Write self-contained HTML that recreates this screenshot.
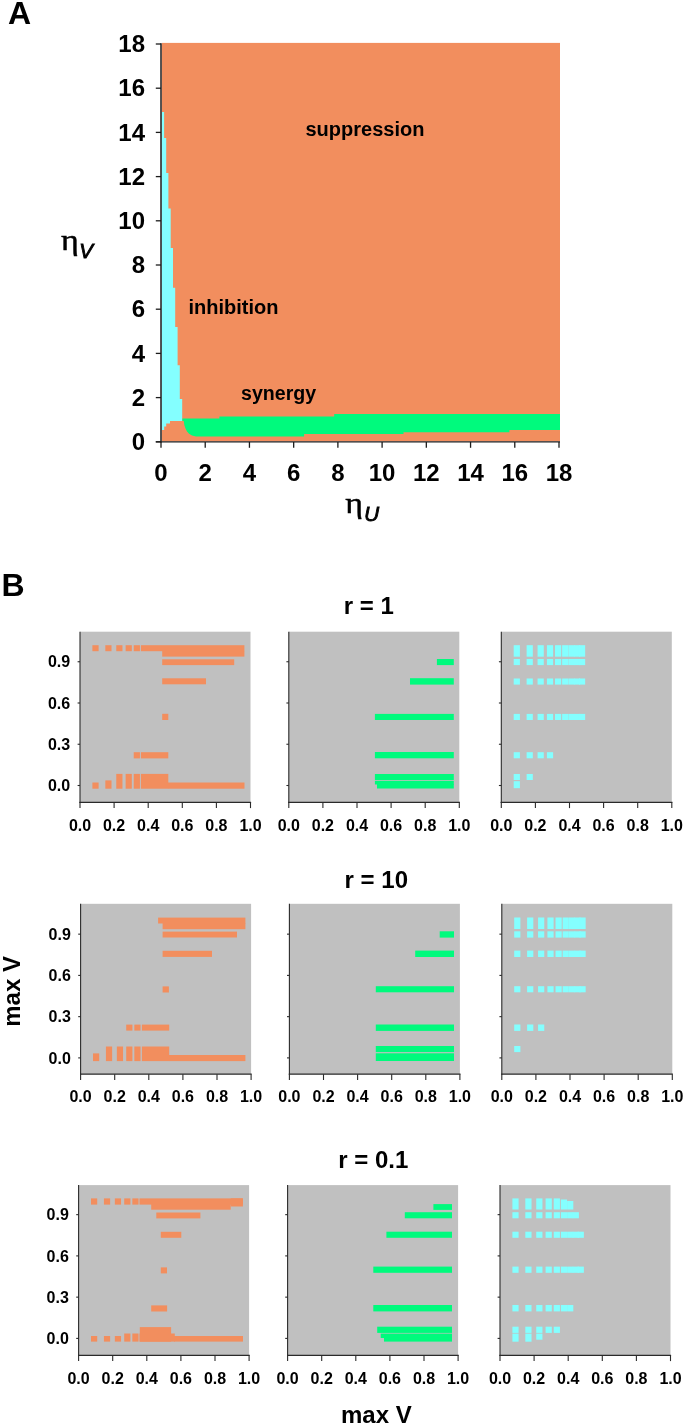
<!DOCTYPE html>
<html><head><meta charset="utf-8"><title>Figure</title>
<style>
html,body{margin:0;padding:0;background:#fff;}
svg{display:block;font-family:"Liberation Sans",sans-serif;fill:#000;}
</style></head><body>
<svg width="685" height="1426" viewBox="0 0 685 1426">
<rect x="0" y="0" width="685" height="1426" fill="#ffffff"/>
<text x="8.10" y="24.10" font-size="32" text-anchor="start" font-weight="bold" >A</text>
<rect x="161.80" y="42.90" width="398.20" height="398.30" fill="#F28E5E"/>
<polygon fill="#84FFFF" points="162,112 164.1,112 164.1,138 166.2,138 166.2,173 168.4,173 168.4,208.6 170.7,208.6 170.7,248 173,248 173,287.7 175.2,287.7 175.2,327 177.6,327 177.6,365.3 179.8,365.3 179.8,399 182.2,399 182.2,421 170,421 170,423.6 166.2,423.6 166.2,426.5 164.2,426.5 164.2,430 162,430 161.5,430 161.5,112"/>
<polygon fill="#00FA7D" points="182.4,418.4 219.4,418.4 219.4,416.4 334.2,416.4 334.2,414.0 560,414.0 560,430.1 509.4,430.1 509.4,432.3 403.5,432.3 403.5,434.0 304.1,434.0 304.1,436.5 196,436.5 192,435.6 189,433.8 187,431.5 185.5,428.5 184.3,425 183.8,421 182.4,421"/>
<line x1="161.00" y1="43.20" x2="161.00" y2="442.60" stroke="#1c1c1c" stroke-width="1.5"/>
<line x1="155.80" y1="441.90" x2="560.00" y2="441.90" stroke="#1c1c1c" stroke-width="1.4"/>
<line x1="155.80" y1="441.80" x2="161.00" y2="441.80" stroke="#1c1c1c" stroke-width="1.3"/>
<line x1="161.00" y1="441.90" x2="161.00" y2="447.80" stroke="#1c1c1c" stroke-width="1.3"/>
<text x="145.00" y="450.00" font-size="24" text-anchor="end" font-weight="bold" >0</text>
<text x="161.00" y="481.30" font-size="24" text-anchor="middle" font-weight="bold" >0</text>
<line x1="155.80" y1="397.60" x2="161.00" y2="397.60" stroke="#1c1c1c" stroke-width="1.3"/>
<line x1="205.22" y1="441.90" x2="205.22" y2="447.80" stroke="#1c1c1c" stroke-width="1.3"/>
<text x="145.00" y="405.80" font-size="24" text-anchor="end" font-weight="bold" >2</text>
<text x="205.22" y="481.30" font-size="24" text-anchor="middle" font-weight="bold" >2</text>
<line x1="155.80" y1="353.40" x2="161.00" y2="353.40" stroke="#1c1c1c" stroke-width="1.3"/>
<line x1="249.44" y1="441.90" x2="249.44" y2="447.80" stroke="#1c1c1c" stroke-width="1.3"/>
<text x="145.00" y="361.60" font-size="24" text-anchor="end" font-weight="bold" >4</text>
<text x="249.44" y="481.30" font-size="24" text-anchor="middle" font-weight="bold" >4</text>
<line x1="155.80" y1="309.20" x2="161.00" y2="309.20" stroke="#1c1c1c" stroke-width="1.3"/>
<line x1="293.67" y1="441.90" x2="293.67" y2="447.80" stroke="#1c1c1c" stroke-width="1.3"/>
<text x="145.00" y="317.40" font-size="24" text-anchor="end" font-weight="bold" >6</text>
<text x="293.67" y="481.30" font-size="24" text-anchor="middle" font-weight="bold" >6</text>
<line x1="155.80" y1="265.00" x2="161.00" y2="265.00" stroke="#1c1c1c" stroke-width="1.3"/>
<line x1="337.89" y1="441.90" x2="337.89" y2="447.80" stroke="#1c1c1c" stroke-width="1.3"/>
<text x="145.00" y="273.20" font-size="24" text-anchor="end" font-weight="bold" >8</text>
<text x="337.89" y="481.30" font-size="24" text-anchor="middle" font-weight="bold" >8</text>
<line x1="155.80" y1="220.80" x2="161.00" y2="220.80" stroke="#1c1c1c" stroke-width="1.3"/>
<line x1="382.11" y1="441.90" x2="382.11" y2="447.80" stroke="#1c1c1c" stroke-width="1.3"/>
<text x="145.00" y="229.00" font-size="24" text-anchor="end" font-weight="bold" >10</text>
<text x="382.11" y="481.30" font-size="24" text-anchor="middle" font-weight="bold" >10</text>
<line x1="155.80" y1="176.60" x2="161.00" y2="176.60" stroke="#1c1c1c" stroke-width="1.3"/>
<line x1="426.33" y1="441.90" x2="426.33" y2="447.80" stroke="#1c1c1c" stroke-width="1.3"/>
<text x="145.00" y="184.80" font-size="24" text-anchor="end" font-weight="bold" >12</text>
<text x="426.33" y="481.30" font-size="24" text-anchor="middle" font-weight="bold" >12</text>
<line x1="155.80" y1="132.40" x2="161.00" y2="132.40" stroke="#1c1c1c" stroke-width="1.3"/>
<line x1="470.56" y1="441.90" x2="470.56" y2="447.80" stroke="#1c1c1c" stroke-width="1.3"/>
<text x="145.00" y="140.60" font-size="24" text-anchor="end" font-weight="bold" >14</text>
<text x="470.56" y="481.30" font-size="24" text-anchor="middle" font-weight="bold" >14</text>
<line x1="155.80" y1="88.20" x2="161.00" y2="88.20" stroke="#1c1c1c" stroke-width="1.3"/>
<line x1="514.78" y1="441.90" x2="514.78" y2="447.80" stroke="#1c1c1c" stroke-width="1.3"/>
<text x="145.00" y="96.40" font-size="24" text-anchor="end" font-weight="bold" >16</text>
<text x="514.78" y="481.30" font-size="24" text-anchor="middle" font-weight="bold" >16</text>
<line x1="155.80" y1="44.00" x2="161.00" y2="44.00" stroke="#1c1c1c" stroke-width="1.3"/>
<line x1="559.00" y1="441.90" x2="559.00" y2="447.80" stroke="#1c1c1c" stroke-width="1.3"/>
<text x="145.00" y="52.20" font-size="24" text-anchor="end" font-weight="bold" >18</text>
<text x="559.00" y="481.30" font-size="24" text-anchor="middle" font-weight="bold" >18</text>
<text x="305.50" y="136.30" font-size="20" text-anchor="start" font-weight="bold" >suppression</text>
<text x="188.50" y="313.50" font-size="20" text-anchor="start" font-weight="bold" >inhibition</text>
<text x="241.00" y="399.60" font-size="19.6" text-anchor="start" font-weight="bold" >synergy</text>
<text transform="translate(60.9,249.7) scale(1.15,1)" font-size="29.5" font-family="'Liberation Serif',serif" font-weight="normal" stroke="#000" stroke-width="0.45">η</text>
<text x="79.2" y="258" font-size="20.5" font-style="italic" font-weight="normal" stroke="#000" stroke-width="0.9">V</text>
<text transform="translate(345.2,512.7) scale(1.15,1)" font-size="29.5" font-family="'Liberation Serif',serif" font-weight="normal" stroke="#000" stroke-width="0.45">η</text>
<text x="364.3" y="521" font-size="20.5" font-style="italic" font-weight="normal" stroke="#000" stroke-width="0.9">U</text>
<text x="1.50" y="596.30" font-size="32" text-anchor="start" font-weight="bold" >B</text>
<text x="343.80" y="613.60" font-size="24" text-anchor="start" font-weight="bold" >r = 1</text>
<rect x="80.00" y="631.70" width="170.50" height="170.60" fill="#C0C0C0"/>
<rect x="92.40" y="645.20" width="6.20" height="6.00" fill="#F28E5E"/>
<rect x="105.32" y="645.20" width="6.20" height="6.00" fill="#F28E5E"/>
<rect x="116.25" y="645.20" width="6.20" height="6.00" fill="#F28E5E"/>
<rect x="125.61" y="645.20" width="6.20" height="6.00" fill="#F28E5E"/>
<rect x="133.73" y="645.20" width="6.20" height="6.00" fill="#F28E5E"/>
<rect x="140.90" y="645.20" width="103.50" height="6.00" fill="#F28E5E"/>
<rect x="162.20" y="651.00" width="82.20" height="5.60" fill="#F28E5E"/>
<rect x="162.20" y="659.30" width="72.00" height="5.80" fill="#F28E5E"/>
<rect x="162.20" y="678.30" width="43.80" height="6.00" fill="#F28E5E"/>
<rect x="162.20" y="713.80" width="6.10" height="6.20" fill="#F28E5E"/>
<rect x="133.73" y="752.20" width="6.20" height="6.20" fill="#F28E5E"/>
<rect x="140.90" y="752.20" width="27.40" height="6.20" fill="#F28E5E"/>
<rect x="116.25" y="773.90" width="6.20" height="14.80" fill="#F28E5E"/>
<rect x="125.61" y="773.90" width="6.20" height="14.80" fill="#F28E5E"/>
<rect x="133.73" y="773.90" width="6.20" height="14.80" fill="#F28E5E"/>
<rect x="140.90" y="773.90" width="27.40" height="14.80" fill="#F28E5E"/>
<rect x="105.32" y="780.40" width="6.20" height="8.30" fill="#F28E5E"/>
<rect x="92.40" y="782.50" width="6.20" height="6.20" fill="#F28E5E"/>
<rect x="168.00" y="782.50" width="76.50" height="6.20" fill="#F28E5E"/>
<line x1="80.00" y1="631.70" x2="80.00" y2="802.90" stroke="#2a2a2a" stroke-width="1.1"/>
<line x1="79.40" y1="802.30" x2="251.10" y2="802.30" stroke="#2a2a2a" stroke-width="1.2"/>
<line x1="80.00" y1="802.30" x2="80.00" y2="808.10" stroke="#2a2a2a" stroke-width="1.1"/>
<text x="80.00" y="830.50" font-size="16" text-anchor="middle" font-weight="bold" >0.0</text>
<line x1="114.10" y1="802.30" x2="114.10" y2="808.10" stroke="#2a2a2a" stroke-width="1.1"/>
<text x="114.10" y="830.50" font-size="16" text-anchor="middle" font-weight="bold" >0.2</text>
<line x1="148.20" y1="802.30" x2="148.20" y2="808.10" stroke="#2a2a2a" stroke-width="1.1"/>
<text x="148.20" y="830.50" font-size="16" text-anchor="middle" font-weight="bold" >0.4</text>
<line x1="182.30" y1="802.30" x2="182.30" y2="808.10" stroke="#2a2a2a" stroke-width="1.1"/>
<text x="182.30" y="830.50" font-size="16" text-anchor="middle" font-weight="bold" >0.6</text>
<line x1="216.40" y1="802.30" x2="216.40" y2="808.10" stroke="#2a2a2a" stroke-width="1.1"/>
<text x="216.40" y="830.50" font-size="16" text-anchor="middle" font-weight="bold" >0.8</text>
<line x1="250.50" y1="802.30" x2="250.50" y2="808.10" stroke="#2a2a2a" stroke-width="1.1"/>
<text x="250.50" y="830.50" font-size="16" text-anchor="middle" font-weight="bold" >1.0</text>
<line x1="77.60" y1="785.50" x2="80.00" y2="785.50" stroke="#2a2a2a" stroke-width="1.1"/>
<text x="70.20" y="791.20" font-size="16" text-anchor="end" font-weight="bold" >0.0</text>
<line x1="77.60" y1="744.25" x2="80.00" y2="744.25" stroke="#2a2a2a" stroke-width="1.1"/>
<text x="70.20" y="749.95" font-size="16" text-anchor="end" font-weight="bold" >0.3</text>
<line x1="77.60" y1="703.00" x2="80.00" y2="703.00" stroke="#2a2a2a" stroke-width="1.1"/>
<text x="70.20" y="708.70" font-size="16" text-anchor="end" font-weight="bold" >0.6</text>
<line x1="77.60" y1="661.75" x2="80.00" y2="661.75" stroke="#2a2a2a" stroke-width="1.1"/>
<text x="70.20" y="667.45" font-size="16" text-anchor="end" font-weight="bold" >0.9</text>
<rect x="288.80" y="631.70" width="170.50" height="170.60" fill="#C0C0C0"/>
<rect x="436.90" y="659.00" width="16.90" height="6.10" fill="#00FA7D"/>
<rect x="410.00" y="678.20" width="43.80" height="6.40" fill="#00FA7D"/>
<rect x="374.90" y="713.90" width="78.90" height="6.10" fill="#00FA7D"/>
<rect x="374.90" y="752.00" width="78.90" height="6.30" fill="#00FA7D"/>
<rect x="374.90" y="774.00" width="78.90" height="6.10" fill="#00FA7D"/>
<rect x="374.90" y="780.90" width="78.90" height="3.60" fill="#00FA7D"/>
<rect x="377.00" y="784.00" width="76.80" height="4.50" fill="#00FA7D"/>
<line x1="288.80" y1="631.70" x2="288.80" y2="802.90" stroke="#2a2a2a" stroke-width="1.1"/>
<line x1="288.20" y1="802.30" x2="459.90" y2="802.30" stroke="#2a2a2a" stroke-width="1.2"/>
<line x1="288.80" y1="802.30" x2="288.80" y2="808.10" stroke="#2a2a2a" stroke-width="1.1"/>
<text x="288.80" y="830.50" font-size="16" text-anchor="middle" font-weight="bold" >0.0</text>
<line x1="322.90" y1="802.30" x2="322.90" y2="808.10" stroke="#2a2a2a" stroke-width="1.1"/>
<text x="322.90" y="830.50" font-size="16" text-anchor="middle" font-weight="bold" >0.2</text>
<line x1="357.00" y1="802.30" x2="357.00" y2="808.10" stroke="#2a2a2a" stroke-width="1.1"/>
<text x="357.00" y="830.50" font-size="16" text-anchor="middle" font-weight="bold" >0.4</text>
<line x1="391.10" y1="802.30" x2="391.10" y2="808.10" stroke="#2a2a2a" stroke-width="1.1"/>
<text x="391.10" y="830.50" font-size="16" text-anchor="middle" font-weight="bold" >0.6</text>
<line x1="425.20" y1="802.30" x2="425.20" y2="808.10" stroke="#2a2a2a" stroke-width="1.1"/>
<text x="425.20" y="830.50" font-size="16" text-anchor="middle" font-weight="bold" >0.8</text>
<line x1="459.30" y1="802.30" x2="459.30" y2="808.10" stroke="#2a2a2a" stroke-width="1.1"/>
<text x="459.30" y="830.50" font-size="16" text-anchor="middle" font-weight="bold" >1.0</text>
<line x1="286.40" y1="785.50" x2="288.80" y2="785.50" stroke="#2a2a2a" stroke-width="1.1"/>
<line x1="286.40" y1="744.25" x2="288.80" y2="744.25" stroke="#2a2a2a" stroke-width="1.1"/>
<line x1="286.40" y1="703.00" x2="288.80" y2="703.00" stroke="#2a2a2a" stroke-width="1.1"/>
<line x1="286.40" y1="661.75" x2="288.80" y2="661.75" stroke="#2a2a2a" stroke-width="1.1"/>
<rect x="501.30" y="631.70" width="170.50" height="170.60" fill="#C0C0C0"/>
<rect x="513.70" y="645.20" width="6.20" height="11.50" fill="#84FFFF"/>
<rect x="526.62" y="645.20" width="6.20" height="11.50" fill="#84FFFF"/>
<rect x="537.55" y="645.20" width="6.20" height="11.50" fill="#84FFFF"/>
<rect x="546.91" y="645.20" width="6.20" height="11.50" fill="#84FFFF"/>
<rect x="555.03" y="645.20" width="6.20" height="11.50" fill="#84FFFF"/>
<rect x="562.14" y="645.20" width="6.20" height="11.50" fill="#84FFFF"/>
<rect x="568.41" y="645.20" width="6.20" height="11.50" fill="#84FFFF"/>
<rect x="573.98" y="645.20" width="6.20" height="11.50" fill="#84FFFF"/>
<rect x="578.96" y="645.20" width="6.20" height="11.50" fill="#84FFFF"/>
<rect x="513.70" y="659.00" width="6.20" height="6.10" fill="#84FFFF"/>
<rect x="526.62" y="659.00" width="6.20" height="6.10" fill="#84FFFF"/>
<rect x="537.55" y="659.00" width="6.20" height="6.10" fill="#84FFFF"/>
<rect x="546.91" y="659.00" width="6.20" height="6.10" fill="#84FFFF"/>
<rect x="555.03" y="659.00" width="6.20" height="6.10" fill="#84FFFF"/>
<rect x="562.14" y="659.00" width="6.20" height="6.10" fill="#84FFFF"/>
<rect x="568.41" y="659.00" width="6.20" height="6.10" fill="#84FFFF"/>
<rect x="573.98" y="659.00" width="6.20" height="6.10" fill="#84FFFF"/>
<rect x="578.96" y="659.00" width="6.20" height="6.10" fill="#84FFFF"/>
<rect x="513.70" y="678.50" width="6.20" height="6.10" fill="#84FFFF"/>
<rect x="526.62" y="678.50" width="6.20" height="6.10" fill="#84FFFF"/>
<rect x="537.55" y="678.50" width="6.20" height="6.10" fill="#84FFFF"/>
<rect x="546.91" y="678.50" width="6.20" height="6.10" fill="#84FFFF"/>
<rect x="555.03" y="678.50" width="6.20" height="6.10" fill="#84FFFF"/>
<rect x="562.14" y="678.50" width="6.20" height="6.10" fill="#84FFFF"/>
<rect x="568.41" y="678.50" width="6.20" height="6.10" fill="#84FFFF"/>
<rect x="573.98" y="678.50" width="6.20" height="6.10" fill="#84FFFF"/>
<rect x="578.96" y="678.50" width="6.20" height="6.10" fill="#84FFFF"/>
<rect x="513.70" y="713.90" width="6.20" height="6.10" fill="#84FFFF"/>
<rect x="526.62" y="713.90" width="6.20" height="6.10" fill="#84FFFF"/>
<rect x="537.55" y="713.90" width="6.20" height="6.10" fill="#84FFFF"/>
<rect x="546.91" y="713.90" width="6.20" height="6.10" fill="#84FFFF"/>
<rect x="555.03" y="713.90" width="6.20" height="6.10" fill="#84FFFF"/>
<rect x="562.14" y="713.90" width="6.20" height="6.10" fill="#84FFFF"/>
<rect x="568.41" y="713.90" width="6.20" height="6.10" fill="#84FFFF"/>
<rect x="573.98" y="713.90" width="6.20" height="6.10" fill="#84FFFF"/>
<rect x="578.96" y="713.90" width="6.20" height="6.10" fill="#84FFFF"/>
<rect x="513.70" y="752.20" width="6.20" height="6.10" fill="#84FFFF"/>
<rect x="526.62" y="752.20" width="6.20" height="6.10" fill="#84FFFF"/>
<rect x="537.55" y="752.20" width="6.20" height="6.10" fill="#84FFFF"/>
<rect x="546.91" y="752.20" width="6.20" height="6.10" fill="#84FFFF"/>
<rect x="513.70" y="774.00" width="6.20" height="6.00" fill="#84FFFF"/>
<rect x="526.62" y="774.00" width="6.20" height="6.00" fill="#84FFFF"/>
<rect x="513.70" y="781.20" width="6.20" height="7.00" fill="#84FFFF"/>
<line x1="501.30" y1="631.70" x2="501.30" y2="802.90" stroke="#2a2a2a" stroke-width="1.1"/>
<line x1="500.70" y1="802.30" x2="672.40" y2="802.30" stroke="#2a2a2a" stroke-width="1.2"/>
<line x1="501.30" y1="802.30" x2="501.30" y2="808.10" stroke="#2a2a2a" stroke-width="1.1"/>
<text x="501.30" y="830.50" font-size="16" text-anchor="middle" font-weight="bold" >0.0</text>
<line x1="535.40" y1="802.30" x2="535.40" y2="808.10" stroke="#2a2a2a" stroke-width="1.1"/>
<text x="535.40" y="830.50" font-size="16" text-anchor="middle" font-weight="bold" >0.2</text>
<line x1="569.50" y1="802.30" x2="569.50" y2="808.10" stroke="#2a2a2a" stroke-width="1.1"/>
<text x="569.50" y="830.50" font-size="16" text-anchor="middle" font-weight="bold" >0.4</text>
<line x1="603.60" y1="802.30" x2="603.60" y2="808.10" stroke="#2a2a2a" stroke-width="1.1"/>
<text x="603.60" y="830.50" font-size="16" text-anchor="middle" font-weight="bold" >0.6</text>
<line x1="637.70" y1="802.30" x2="637.70" y2="808.10" stroke="#2a2a2a" stroke-width="1.1"/>
<text x="637.70" y="830.50" font-size="16" text-anchor="middle" font-weight="bold" >0.8</text>
<line x1="671.80" y1="802.30" x2="671.80" y2="808.10" stroke="#2a2a2a" stroke-width="1.1"/>
<text x="671.80" y="830.50" font-size="16" text-anchor="middle" font-weight="bold" >1.0</text>
<line x1="498.90" y1="785.50" x2="501.30" y2="785.50" stroke="#2a2a2a" stroke-width="1.1"/>
<line x1="498.90" y1="744.25" x2="501.30" y2="744.25" stroke="#2a2a2a" stroke-width="1.1"/>
<line x1="498.90" y1="703.00" x2="501.30" y2="703.00" stroke="#2a2a2a" stroke-width="1.1"/>
<line x1="498.90" y1="661.75" x2="501.30" y2="661.75" stroke="#2a2a2a" stroke-width="1.1"/>
<text x="344.60" y="887.80" font-size="24" text-anchor="start" font-weight="bold" >r = 10</text>
<rect x="80.60" y="903.80" width="170.50" height="170.40" fill="#C0C0C0"/>
<rect x="158.10" y="917.60" width="87.30" height="5.90" fill="#F28E5E"/>
<rect x="162.60" y="923.00" width="82.80" height="6.20" fill="#F28E5E"/>
<rect x="162.60" y="931.60" width="74.40" height="5.90" fill="#F28E5E"/>
<rect x="162.60" y="950.80" width="49.40" height="6.10" fill="#F28E5E"/>
<rect x="162.60" y="986.40" width="6.30" height="6.10" fill="#F28E5E"/>
<rect x="126.21" y="1024.60" width="6.20" height="6.00" fill="#F28E5E"/>
<rect x="134.33" y="1024.60" width="6.20" height="6.00" fill="#F28E5E"/>
<rect x="141.90" y="1024.60" width="27.30" height="6.00" fill="#F28E5E"/>
<rect x="105.92" y="1046.50" width="6.20" height="14.60" fill="#F28E5E"/>
<rect x="116.85" y="1046.50" width="6.20" height="14.60" fill="#F28E5E"/>
<rect x="126.21" y="1046.50" width="6.20" height="14.60" fill="#F28E5E"/>
<rect x="134.33" y="1046.50" width="6.20" height="14.60" fill="#F28E5E"/>
<rect x="141.90" y="1046.50" width="27.30" height="14.60" fill="#F28E5E"/>
<rect x="93.00" y="1053.40" width="6.20" height="7.70" fill="#F28E5E"/>
<rect x="169.00" y="1055.00" width="76.40" height="6.10" fill="#F28E5E"/>
<line x1="80.60" y1="903.80" x2="80.60" y2="1074.80" stroke="#2a2a2a" stroke-width="1.1"/>
<line x1="80.00" y1="1074.20" x2="251.70" y2="1074.20" stroke="#2a2a2a" stroke-width="1.2"/>
<line x1="80.60" y1="1074.20" x2="80.60" y2="1080.00" stroke="#2a2a2a" stroke-width="1.1"/>
<text x="80.60" y="1102.40" font-size="16" text-anchor="middle" font-weight="bold" >0.0</text>
<line x1="114.70" y1="1074.20" x2="114.70" y2="1080.00" stroke="#2a2a2a" stroke-width="1.1"/>
<text x="114.70" y="1102.40" font-size="16" text-anchor="middle" font-weight="bold" >0.2</text>
<line x1="148.80" y1="1074.20" x2="148.80" y2="1080.00" stroke="#2a2a2a" stroke-width="1.1"/>
<text x="148.80" y="1102.40" font-size="16" text-anchor="middle" font-weight="bold" >0.4</text>
<line x1="182.90" y1="1074.20" x2="182.90" y2="1080.00" stroke="#2a2a2a" stroke-width="1.1"/>
<text x="182.90" y="1102.40" font-size="16" text-anchor="middle" font-weight="bold" >0.6</text>
<line x1="217.00" y1="1074.20" x2="217.00" y2="1080.00" stroke="#2a2a2a" stroke-width="1.1"/>
<text x="217.00" y="1102.40" font-size="16" text-anchor="middle" font-weight="bold" >0.8</text>
<line x1="251.10" y1="1074.20" x2="251.10" y2="1080.00" stroke="#2a2a2a" stroke-width="1.1"/>
<text x="251.10" y="1102.40" font-size="16" text-anchor="middle" font-weight="bold" >1.0</text>
<line x1="78.20" y1="1057.90" x2="80.60" y2="1057.90" stroke="#2a2a2a" stroke-width="1.1"/>
<text x="70.80" y="1063.60" font-size="16" text-anchor="end" font-weight="bold" >0.0</text>
<line x1="78.20" y1="1016.65" x2="80.60" y2="1016.65" stroke="#2a2a2a" stroke-width="1.1"/>
<text x="70.80" y="1022.35" font-size="16" text-anchor="end" font-weight="bold" >0.3</text>
<line x1="78.20" y1="975.40" x2="80.60" y2="975.40" stroke="#2a2a2a" stroke-width="1.1"/>
<text x="70.80" y="981.10" font-size="16" text-anchor="end" font-weight="bold" >0.6</text>
<line x1="78.20" y1="934.15" x2="80.60" y2="934.15" stroke="#2a2a2a" stroke-width="1.1"/>
<text x="70.80" y="939.85" font-size="16" text-anchor="end" font-weight="bold" >0.9</text>
<rect x="289.40" y="903.80" width="170.50" height="170.40" fill="#C0C0C0"/>
<rect x="439.70" y="931.30" width="14.30" height="6.30" fill="#00FA7D"/>
<rect x="415.20" y="950.60" width="38.80" height="6.40" fill="#00FA7D"/>
<rect x="375.80" y="986.20" width="78.20" height="6.10" fill="#00FA7D"/>
<rect x="375.80" y="1024.50" width="78.20" height="6.40" fill="#00FA7D"/>
<rect x="375.80" y="1046.00" width="78.20" height="6.10" fill="#00FA7D"/>
<rect x="375.80" y="1053.30" width="78.20" height="7.70" fill="#00FA7D"/>
<line x1="289.40" y1="903.80" x2="289.40" y2="1074.80" stroke="#2a2a2a" stroke-width="1.1"/>
<line x1="288.80" y1="1074.20" x2="460.50" y2="1074.20" stroke="#2a2a2a" stroke-width="1.2"/>
<line x1="289.40" y1="1074.20" x2="289.40" y2="1080.00" stroke="#2a2a2a" stroke-width="1.1"/>
<text x="289.40" y="1102.40" font-size="16" text-anchor="middle" font-weight="bold" >0.0</text>
<line x1="323.50" y1="1074.20" x2="323.50" y2="1080.00" stroke="#2a2a2a" stroke-width="1.1"/>
<text x="323.50" y="1102.40" font-size="16" text-anchor="middle" font-weight="bold" >0.2</text>
<line x1="357.60" y1="1074.20" x2="357.60" y2="1080.00" stroke="#2a2a2a" stroke-width="1.1"/>
<text x="357.60" y="1102.40" font-size="16" text-anchor="middle" font-weight="bold" >0.4</text>
<line x1="391.70" y1="1074.20" x2="391.70" y2="1080.00" stroke="#2a2a2a" stroke-width="1.1"/>
<text x="391.70" y="1102.40" font-size="16" text-anchor="middle" font-weight="bold" >0.6</text>
<line x1="425.80" y1="1074.20" x2="425.80" y2="1080.00" stroke="#2a2a2a" stroke-width="1.1"/>
<text x="425.80" y="1102.40" font-size="16" text-anchor="middle" font-weight="bold" >0.8</text>
<line x1="459.90" y1="1074.20" x2="459.90" y2="1080.00" stroke="#2a2a2a" stroke-width="1.1"/>
<text x="459.90" y="1102.40" font-size="16" text-anchor="middle" font-weight="bold" >1.0</text>
<line x1="287.00" y1="1057.90" x2="289.40" y2="1057.90" stroke="#2a2a2a" stroke-width="1.1"/>
<line x1="287.00" y1="1016.65" x2="289.40" y2="1016.65" stroke="#2a2a2a" stroke-width="1.1"/>
<line x1="287.00" y1="975.40" x2="289.40" y2="975.40" stroke="#2a2a2a" stroke-width="1.1"/>
<line x1="287.00" y1="934.15" x2="289.40" y2="934.15" stroke="#2a2a2a" stroke-width="1.1"/>
<rect x="501.80" y="903.80" width="170.50" height="170.40" fill="#C0C0C0"/>
<rect x="514.20" y="917.50" width="6.20" height="11.50" fill="#84FFFF"/>
<rect x="527.12" y="917.50" width="6.20" height="11.50" fill="#84FFFF"/>
<rect x="538.05" y="917.50" width="6.20" height="11.50" fill="#84FFFF"/>
<rect x="547.41" y="917.50" width="6.20" height="11.50" fill="#84FFFF"/>
<rect x="555.53" y="917.50" width="6.20" height="11.50" fill="#84FFFF"/>
<rect x="562.64" y="917.50" width="6.20" height="11.50" fill="#84FFFF"/>
<rect x="568.91" y="917.50" width="6.20" height="11.50" fill="#84FFFF"/>
<rect x="574.48" y="917.50" width="6.20" height="11.50" fill="#84FFFF"/>
<rect x="579.46" y="917.50" width="6.20" height="11.50" fill="#84FFFF"/>
<rect x="514.20" y="931.30" width="6.20" height="6.30" fill="#84FFFF"/>
<rect x="527.12" y="931.30" width="6.20" height="6.30" fill="#84FFFF"/>
<rect x="538.05" y="931.30" width="6.20" height="6.30" fill="#84FFFF"/>
<rect x="547.41" y="931.30" width="6.20" height="6.30" fill="#84FFFF"/>
<rect x="555.53" y="931.30" width="6.20" height="6.30" fill="#84FFFF"/>
<rect x="562.64" y="931.30" width="6.20" height="6.30" fill="#84FFFF"/>
<rect x="568.91" y="931.30" width="6.20" height="6.30" fill="#84FFFF"/>
<rect x="574.48" y="931.30" width="6.20" height="6.30" fill="#84FFFF"/>
<rect x="579.46" y="931.30" width="6.20" height="6.30" fill="#84FFFF"/>
<rect x="514.20" y="950.60" width="6.20" height="6.40" fill="#84FFFF"/>
<rect x="527.12" y="950.60" width="6.20" height="6.40" fill="#84FFFF"/>
<rect x="538.05" y="950.60" width="6.20" height="6.40" fill="#84FFFF"/>
<rect x="547.41" y="950.60" width="6.20" height="6.40" fill="#84FFFF"/>
<rect x="555.53" y="950.60" width="6.20" height="6.40" fill="#84FFFF"/>
<rect x="562.64" y="950.60" width="6.20" height="6.40" fill="#84FFFF"/>
<rect x="568.91" y="950.60" width="6.20" height="6.40" fill="#84FFFF"/>
<rect x="574.48" y="950.60" width="6.20" height="6.40" fill="#84FFFF"/>
<rect x="579.46" y="950.60" width="6.20" height="6.40" fill="#84FFFF"/>
<rect x="514.20" y="986.20" width="6.20" height="6.10" fill="#84FFFF"/>
<rect x="527.12" y="986.20" width="6.20" height="6.10" fill="#84FFFF"/>
<rect x="538.05" y="986.20" width="6.20" height="6.10" fill="#84FFFF"/>
<rect x="547.41" y="986.20" width="6.20" height="6.10" fill="#84FFFF"/>
<rect x="555.53" y="986.20" width="6.20" height="6.10" fill="#84FFFF"/>
<rect x="562.64" y="986.20" width="6.20" height="6.10" fill="#84FFFF"/>
<rect x="568.91" y="986.20" width="6.20" height="6.10" fill="#84FFFF"/>
<rect x="574.48" y="986.20" width="6.20" height="6.10" fill="#84FFFF"/>
<rect x="579.46" y="986.20" width="6.20" height="6.10" fill="#84FFFF"/>
<rect x="514.20" y="1024.50" width="6.20" height="6.40" fill="#84FFFF"/>
<rect x="527.12" y="1024.50" width="6.20" height="6.40" fill="#84FFFF"/>
<rect x="538.05" y="1024.50" width="6.20" height="6.40" fill="#84FFFF"/>
<rect x="514.20" y="1046.00" width="6.20" height="6.10" fill="#84FFFF"/>
<line x1="501.80" y1="903.80" x2="501.80" y2="1074.80" stroke="#2a2a2a" stroke-width="1.1"/>
<line x1="501.20" y1="1074.20" x2="672.90" y2="1074.20" stroke="#2a2a2a" stroke-width="1.2"/>
<line x1="501.80" y1="1074.20" x2="501.80" y2="1080.00" stroke="#2a2a2a" stroke-width="1.1"/>
<text x="501.80" y="1102.40" font-size="16" text-anchor="middle" font-weight="bold" >0.0</text>
<line x1="535.90" y1="1074.20" x2="535.90" y2="1080.00" stroke="#2a2a2a" stroke-width="1.1"/>
<text x="535.90" y="1102.40" font-size="16" text-anchor="middle" font-weight="bold" >0.2</text>
<line x1="570.00" y1="1074.20" x2="570.00" y2="1080.00" stroke="#2a2a2a" stroke-width="1.1"/>
<text x="570.00" y="1102.40" font-size="16" text-anchor="middle" font-weight="bold" >0.4</text>
<line x1="604.10" y1="1074.20" x2="604.10" y2="1080.00" stroke="#2a2a2a" stroke-width="1.1"/>
<text x="604.10" y="1102.40" font-size="16" text-anchor="middle" font-weight="bold" >0.6</text>
<line x1="638.20" y1="1074.20" x2="638.20" y2="1080.00" stroke="#2a2a2a" stroke-width="1.1"/>
<text x="638.20" y="1102.40" font-size="16" text-anchor="middle" font-weight="bold" >0.8</text>
<line x1="672.30" y1="1074.20" x2="672.30" y2="1080.00" stroke="#2a2a2a" stroke-width="1.1"/>
<text x="672.30" y="1102.40" font-size="16" text-anchor="middle" font-weight="bold" >1.0</text>
<line x1="499.40" y1="1057.90" x2="501.80" y2="1057.90" stroke="#2a2a2a" stroke-width="1.1"/>
<line x1="499.40" y1="1016.65" x2="501.80" y2="1016.65" stroke="#2a2a2a" stroke-width="1.1"/>
<line x1="499.40" y1="975.40" x2="501.80" y2="975.40" stroke="#2a2a2a" stroke-width="1.1"/>
<line x1="499.40" y1="934.15" x2="501.80" y2="934.15" stroke="#2a2a2a" stroke-width="1.1"/>
<text x="338.30" y="1167.80" font-size="24" text-anchor="start" font-weight="bold" >r = 0.1</text>
<rect x="78.60" y="1185.10" width="170.50" height="170.20" fill="#C0C0C0"/>
<rect x="91.00" y="1198.40" width="6.20" height="6.20" fill="#F28E5E"/>
<rect x="103.92" y="1198.40" width="6.20" height="6.20" fill="#F28E5E"/>
<rect x="114.85" y="1198.40" width="6.20" height="6.20" fill="#F28E5E"/>
<rect x="124.21" y="1198.40" width="6.20" height="6.20" fill="#F28E5E"/>
<rect x="132.33" y="1198.40" width="6.20" height="6.20" fill="#F28E5E"/>
<rect x="139.50" y="1198.40" width="103.40" height="6.20" fill="#F28E5E"/>
<rect x="230.70" y="1198.40" width="12.20" height="8.10" fill="#F28E5E"/>
<rect x="151.20" y="1204.00" width="79.50" height="5.70" fill="#F28E5E"/>
<rect x="156.30" y="1212.50" width="44.10" height="5.90" fill="#F28E5E"/>
<rect x="160.80" y="1231.80" width="20.50" height="6.00" fill="#F28E5E"/>
<rect x="160.80" y="1267.40" width="6.20" height="6.00" fill="#F28E5E"/>
<rect x="151.20" y="1305.40" width="15.90" height="6.10" fill="#F28E5E"/>
<rect x="139.80" y="1327.10" width="31.30" height="14.50" fill="#F28E5E"/>
<rect x="124.21" y="1333.50" width="6.20" height="8.10" fill="#F28E5E"/>
<rect x="132.33" y="1333.50" width="6.20" height="8.10" fill="#F28E5E"/>
<rect x="139.50" y="1333.50" width="35.30" height="8.10" fill="#F28E5E"/>
<rect x="91.00" y="1336.00" width="6.20" height="5.60" fill="#F28E5E"/>
<rect x="103.92" y="1336.00" width="6.20" height="5.60" fill="#F28E5E"/>
<rect x="114.85" y="1336.00" width="6.20" height="5.60" fill="#F28E5E"/>
<rect x="174.00" y="1336.00" width="69.00" height="5.60" fill="#F28E5E"/>
<line x1="78.60" y1="1185.10" x2="78.60" y2="1355.90" stroke="#2a2a2a" stroke-width="1.1"/>
<line x1="78.00" y1="1355.30" x2="249.70" y2="1355.30" stroke="#2a2a2a" stroke-width="1.2"/>
<line x1="78.60" y1="1355.30" x2="78.60" y2="1361.10" stroke="#2a2a2a" stroke-width="1.1"/>
<text x="78.60" y="1383.50" font-size="16" text-anchor="middle" font-weight="bold" >0.0</text>
<line x1="112.70" y1="1355.30" x2="112.70" y2="1361.10" stroke="#2a2a2a" stroke-width="1.1"/>
<text x="112.70" y="1383.50" font-size="16" text-anchor="middle" font-weight="bold" >0.2</text>
<line x1="146.80" y1="1355.30" x2="146.80" y2="1361.10" stroke="#2a2a2a" stroke-width="1.1"/>
<text x="146.80" y="1383.50" font-size="16" text-anchor="middle" font-weight="bold" >0.4</text>
<line x1="180.90" y1="1355.30" x2="180.90" y2="1361.10" stroke="#2a2a2a" stroke-width="1.1"/>
<text x="180.90" y="1383.50" font-size="16" text-anchor="middle" font-weight="bold" >0.6</text>
<line x1="215.00" y1="1355.30" x2="215.00" y2="1361.10" stroke="#2a2a2a" stroke-width="1.1"/>
<text x="215.00" y="1383.50" font-size="16" text-anchor="middle" font-weight="bold" >0.8</text>
<line x1="249.10" y1="1355.30" x2="249.10" y2="1361.10" stroke="#2a2a2a" stroke-width="1.1"/>
<text x="249.10" y="1383.50" font-size="16" text-anchor="middle" font-weight="bold" >1.0</text>
<line x1="76.20" y1="1338.40" x2="78.60" y2="1338.40" stroke="#2a2a2a" stroke-width="1.1"/>
<text x="68.80" y="1344.10" font-size="16" text-anchor="end" font-weight="bold" >0.0</text>
<line x1="76.20" y1="1297.15" x2="78.60" y2="1297.15" stroke="#2a2a2a" stroke-width="1.1"/>
<text x="68.80" y="1302.85" font-size="16" text-anchor="end" font-weight="bold" >0.3</text>
<line x1="76.20" y1="1255.90" x2="78.60" y2="1255.90" stroke="#2a2a2a" stroke-width="1.1"/>
<text x="68.80" y="1261.60" font-size="16" text-anchor="end" font-weight="bold" >0.6</text>
<line x1="76.20" y1="1214.65" x2="78.60" y2="1214.65" stroke="#2a2a2a" stroke-width="1.1"/>
<text x="68.80" y="1220.35" font-size="16" text-anchor="end" font-weight="bold" >0.9</text>
<rect x="287.60" y="1185.10" width="170.50" height="170.20" fill="#C0C0C0"/>
<rect x="433.40" y="1204.10" width="18.60" height="5.80" fill="#00FA7D"/>
<rect x="404.80" y="1212.20" width="47.20" height="6.10" fill="#00FA7D"/>
<rect x="386.40" y="1231.70" width="65.60" height="6.10" fill="#00FA7D"/>
<rect x="373.30" y="1266.60" width="78.70" height="6.20" fill="#00FA7D"/>
<rect x="373.30" y="1305.00" width="78.70" height="6.40" fill="#00FA7D"/>
<rect x="377.20" y="1326.70" width="74.80" height="6.20" fill="#00FA7D"/>
<rect x="380.70" y="1333.60" width="71.30" height="4.40" fill="#00FA7D"/>
<rect x="384.00" y="1337.50" width="68.00" height="4.10" fill="#00FA7D"/>
<line x1="287.60" y1="1185.10" x2="287.60" y2="1355.90" stroke="#2a2a2a" stroke-width="1.1"/>
<line x1="287.00" y1="1355.30" x2="458.70" y2="1355.30" stroke="#2a2a2a" stroke-width="1.2"/>
<line x1="287.60" y1="1355.30" x2="287.60" y2="1361.10" stroke="#2a2a2a" stroke-width="1.1"/>
<text x="287.60" y="1383.50" font-size="16" text-anchor="middle" font-weight="bold" >0.0</text>
<line x1="321.70" y1="1355.30" x2="321.70" y2="1361.10" stroke="#2a2a2a" stroke-width="1.1"/>
<text x="321.70" y="1383.50" font-size="16" text-anchor="middle" font-weight="bold" >0.2</text>
<line x1="355.80" y1="1355.30" x2="355.80" y2="1361.10" stroke="#2a2a2a" stroke-width="1.1"/>
<text x="355.80" y="1383.50" font-size="16" text-anchor="middle" font-weight="bold" >0.4</text>
<line x1="389.90" y1="1355.30" x2="389.90" y2="1361.10" stroke="#2a2a2a" stroke-width="1.1"/>
<text x="389.90" y="1383.50" font-size="16" text-anchor="middle" font-weight="bold" >0.6</text>
<line x1="424.00" y1="1355.30" x2="424.00" y2="1361.10" stroke="#2a2a2a" stroke-width="1.1"/>
<text x="424.00" y="1383.50" font-size="16" text-anchor="middle" font-weight="bold" >0.8</text>
<line x1="458.10" y1="1355.30" x2="458.10" y2="1361.10" stroke="#2a2a2a" stroke-width="1.1"/>
<text x="458.10" y="1383.50" font-size="16" text-anchor="middle" font-weight="bold" >1.0</text>
<line x1="285.20" y1="1338.40" x2="287.60" y2="1338.40" stroke="#2a2a2a" stroke-width="1.1"/>
<line x1="285.20" y1="1297.15" x2="287.60" y2="1297.15" stroke="#2a2a2a" stroke-width="1.1"/>
<line x1="285.20" y1="1255.90" x2="287.60" y2="1255.90" stroke="#2a2a2a" stroke-width="1.1"/>
<line x1="285.20" y1="1214.65" x2="287.60" y2="1214.65" stroke="#2a2a2a" stroke-width="1.1"/>
<rect x="500.00" y="1185.10" width="170.50" height="170.20" fill="#C0C0C0"/>
<rect x="512.40" y="1198.40" width="6.20" height="11.10" fill="#84FFFF"/>
<rect x="525.32" y="1198.40" width="6.20" height="11.10" fill="#84FFFF"/>
<rect x="536.25" y="1198.40" width="6.20" height="11.10" fill="#84FFFF"/>
<rect x="545.61" y="1198.40" width="6.20" height="11.10" fill="#84FFFF"/>
<rect x="553.73" y="1198.40" width="6.20" height="11.10" fill="#84FFFF"/>
<rect x="560.84" y="1199.50" width="6.20" height="10.00" fill="#84FFFF"/>
<rect x="567.11" y="1201.00" width="6.20" height="8.50" fill="#84FFFF"/>
<rect x="512.40" y="1212.20" width="6.20" height="6.10" fill="#84FFFF"/>
<rect x="525.32" y="1212.20" width="6.20" height="6.10" fill="#84FFFF"/>
<rect x="536.25" y="1212.20" width="6.20" height="6.10" fill="#84FFFF"/>
<rect x="545.61" y="1212.20" width="6.20" height="6.10" fill="#84FFFF"/>
<rect x="553.73" y="1212.20" width="6.20" height="6.10" fill="#84FFFF"/>
<rect x="560.84" y="1212.20" width="6.20" height="6.10" fill="#84FFFF"/>
<rect x="567.11" y="1212.20" width="6.20" height="6.10" fill="#84FFFF"/>
<rect x="572.68" y="1212.20" width="6.20" height="6.10" fill="#84FFFF"/>
<rect x="512.40" y="1231.70" width="6.20" height="6.10" fill="#84FFFF"/>
<rect x="525.32" y="1231.70" width="6.20" height="6.10" fill="#84FFFF"/>
<rect x="536.25" y="1231.70" width="6.20" height="6.10" fill="#84FFFF"/>
<rect x="545.61" y="1231.70" width="6.20" height="6.10" fill="#84FFFF"/>
<rect x="553.73" y="1231.70" width="6.20" height="6.10" fill="#84FFFF"/>
<rect x="560.84" y="1231.70" width="6.20" height="6.10" fill="#84FFFF"/>
<rect x="567.11" y="1231.70" width="6.20" height="6.10" fill="#84FFFF"/>
<rect x="572.68" y="1231.70" width="6.20" height="6.10" fill="#84FFFF"/>
<rect x="577.66" y="1231.70" width="6.20" height="6.10" fill="#84FFFF"/>
<rect x="512.40" y="1266.60" width="6.20" height="6.20" fill="#84FFFF"/>
<rect x="525.32" y="1266.60" width="6.20" height="6.20" fill="#84FFFF"/>
<rect x="536.25" y="1266.60" width="6.20" height="6.20" fill="#84FFFF"/>
<rect x="545.61" y="1266.60" width="6.20" height="6.20" fill="#84FFFF"/>
<rect x="553.73" y="1266.60" width="6.20" height="6.20" fill="#84FFFF"/>
<rect x="560.84" y="1266.60" width="6.20" height="6.20" fill="#84FFFF"/>
<rect x="567.11" y="1266.60" width="6.20" height="6.20" fill="#84FFFF"/>
<rect x="572.68" y="1266.60" width="6.20" height="6.20" fill="#84FFFF"/>
<rect x="577.66" y="1266.60" width="6.20" height="6.20" fill="#84FFFF"/>
<rect x="512.40" y="1305.00" width="6.20" height="6.40" fill="#84FFFF"/>
<rect x="525.32" y="1305.00" width="6.20" height="6.40" fill="#84FFFF"/>
<rect x="536.25" y="1305.00" width="6.20" height="6.40" fill="#84FFFF"/>
<rect x="545.61" y="1305.00" width="6.20" height="6.40" fill="#84FFFF"/>
<rect x="553.73" y="1305.00" width="6.20" height="6.40" fill="#84FFFF"/>
<rect x="560.84" y="1305.00" width="6.20" height="6.40" fill="#84FFFF"/>
<rect x="567.11" y="1305.00" width="6.20" height="6.40" fill="#84FFFF"/>
<rect x="512.40" y="1326.70" width="6.20" height="6.20" fill="#84FFFF"/>
<rect x="525.32" y="1326.70" width="6.20" height="6.20" fill="#84FFFF"/>
<rect x="536.25" y="1326.70" width="6.20" height="6.20" fill="#84FFFF"/>
<rect x="545.61" y="1326.70" width="6.20" height="6.20" fill="#84FFFF"/>
<rect x="553.73" y="1326.70" width="6.20" height="6.20" fill="#84FFFF"/>
<rect x="512.40" y="1333.60" width="6.20" height="8.10" fill="#84FFFF"/>
<rect x="525.32" y="1333.60" width="6.20" height="8.10" fill="#84FFFF"/>
<rect x="536.25" y="1333.60" width="6.20" height="6.10" fill="#84FFFF"/>
<line x1="500.00" y1="1185.10" x2="500.00" y2="1355.90" stroke="#2a2a2a" stroke-width="1.1"/>
<line x1="499.40" y1="1355.30" x2="671.10" y2="1355.30" stroke="#2a2a2a" stroke-width="1.2"/>
<line x1="500.00" y1="1355.30" x2="500.00" y2="1361.10" stroke="#2a2a2a" stroke-width="1.1"/>
<text x="500.00" y="1383.50" font-size="16" text-anchor="middle" font-weight="bold" >0.0</text>
<line x1="534.10" y1="1355.30" x2="534.10" y2="1361.10" stroke="#2a2a2a" stroke-width="1.1"/>
<text x="534.10" y="1383.50" font-size="16" text-anchor="middle" font-weight="bold" >0.2</text>
<line x1="568.20" y1="1355.30" x2="568.20" y2="1361.10" stroke="#2a2a2a" stroke-width="1.1"/>
<text x="568.20" y="1383.50" font-size="16" text-anchor="middle" font-weight="bold" >0.4</text>
<line x1="602.30" y1="1355.30" x2="602.30" y2="1361.10" stroke="#2a2a2a" stroke-width="1.1"/>
<text x="602.30" y="1383.50" font-size="16" text-anchor="middle" font-weight="bold" >0.6</text>
<line x1="636.40" y1="1355.30" x2="636.40" y2="1361.10" stroke="#2a2a2a" stroke-width="1.1"/>
<text x="636.40" y="1383.50" font-size="16" text-anchor="middle" font-weight="bold" >0.8</text>
<line x1="670.50" y1="1355.30" x2="670.50" y2="1361.10" stroke="#2a2a2a" stroke-width="1.1"/>
<text x="670.50" y="1383.50" font-size="16" text-anchor="middle" font-weight="bold" >1.0</text>
<line x1="497.60" y1="1338.40" x2="500.00" y2="1338.40" stroke="#2a2a2a" stroke-width="1.1"/>
<line x1="497.60" y1="1297.15" x2="500.00" y2="1297.15" stroke="#2a2a2a" stroke-width="1.1"/>
<line x1="497.60" y1="1255.90" x2="500.00" y2="1255.90" stroke="#2a2a2a" stroke-width="1.1"/>
<line x1="497.60" y1="1214.65" x2="500.00" y2="1214.65" stroke="#2a2a2a" stroke-width="1.1"/>
<text x="341.00" y="1422.80" font-size="24" text-anchor="start" font-weight="bold" >max V</text>
<text transform="translate(19.6,1026.8) rotate(-90)" font-size="24" font-weight="bold">max V</text>
</svg>
</body></html>
